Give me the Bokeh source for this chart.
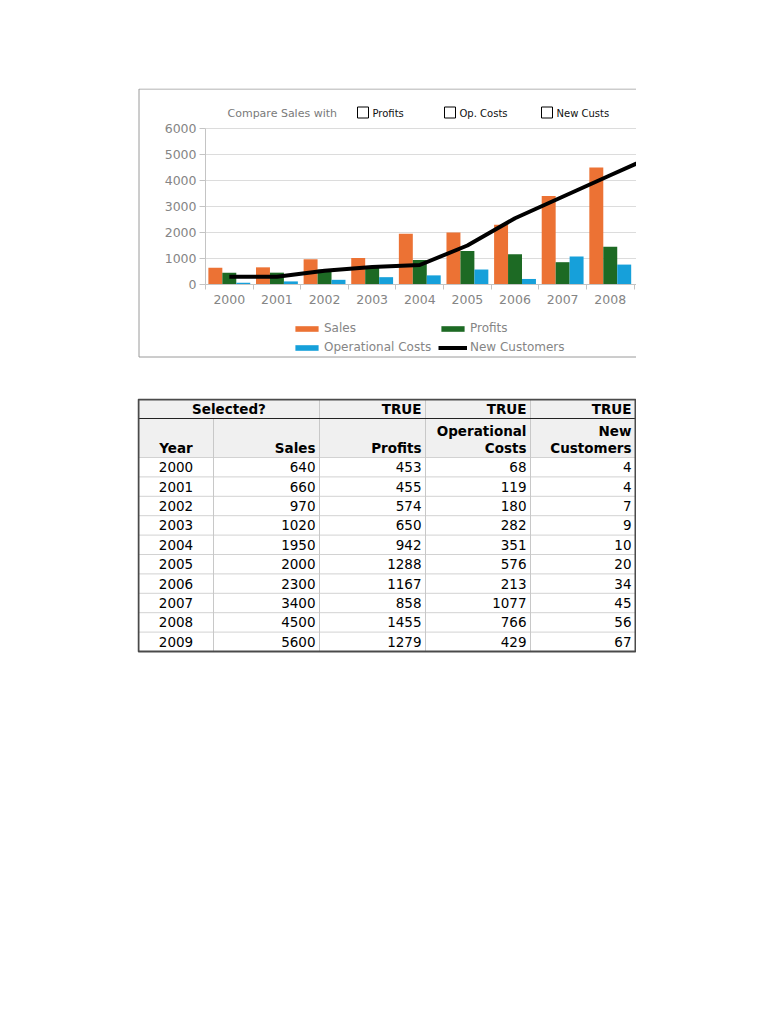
from bokeh.plotting import figure
from bokeh.models import (Range1d, FixedTicker, Legend, LegendItem, Label,
                          BoxAnnotation, ColumnDataSource)
from bokeh.transform import dodge
from bokeh.layouts import column
from bokeh.embed import file_html
from bokeh.resources import INLINE
from bokeh.core.properties import value

# ---------------- data ----------------
years = [2000, 2001, 2002, 2003, 2004, 2005, 2006, 2007, 2008, 2009]
sales = [640, 660, 970, 1020, 1950, 2000, 2300, 3400, 4500, 5600]
profits = [453, 455, 574, 650, 942, 1288, 1167, 858, 1455, 1279]
op_costs = [68, 119, 180, 282, 351, 576, 213, 1077, 766, 429]
new_customers = [4, 4, 7, 9, 10, 20, 34, 45, 56, 67]
new_cust_scale = 75          # New Customers drawn on the sales scale
y_ticks = [0, 1000, 2000, 3000, 4000, 5000, 6000]
selected = ["TRUE", "TRUE", "TRUE"]
series_names = ["Sales", "Profits", "Operational Costs", "New Customers"]
checkbox_labels = ["Profits", "Op. Costs", "New Custs"]

FONT = "DejaVu Sans"
ORANGE = "#EC7234"
GREEN = "#1D6A24"
BLUE = "#16A0DA"
AXIS_GRAY = "#c4c4c4"
TEXT_GRAY = "#858585"

# ---------------- chart ----------------
# plot area (axes) position on the page and data extent there
X0, X1 = 1999.5, 2008.53
PA_L, PA_R, PA_T, PA_B = 205, 635, 128, 284
Y_TOP = 6000
# canvas (= frame) position on the page
CV_L, CV_R, CV_T, CV_B = 137, 636, 88, 358


def px_x(px):
    return X0 + (px - PA_L) * (X1 - X0) / (PA_R - PA_L)


def py_y(py):
    return (PA_B - py) * Y_TOP / (PA_B - PA_T)


p = figure(width=CV_R - CV_L, height=CV_B - CV_T,
           x_range=Range1d(px_x(CV_L), px_x(CV_R)),
           y_range=Range1d(py_y(CV_B), py_y(CV_T)),
           output_backend="svg", toolbar_location=None,
           min_border=0, min_border_left=0, min_border_right=0,
           min_border_top=0, min_border_bottom=0,
           margin=(CV_T, 0, 0, CV_L))
p.outline_line_color = None
p.background_fill_color = "white"
p.border_fill_color = "white"

src = ColumnDataSource(dict(year=years, sales=sales, profits=profits, op=op_costs,
                            nc=[v * new_cust_scale for v in new_customers]))
BW = 0.293
r_s = p.vbar(x=dodge("year", -BW), top="sales", width=BW, source=src,
             fill_color=ORANGE, line_color=None)
r_p = p.vbar(x="year", top="profits", width=BW, source=src,
             fill_color=GREEN, line_color=None)
r_o = p.vbar(x=dodge("year", BW), top="op", width=BW, source=src,
             fill_color=BLUE, line_color=None)
r_n = p.line(x="year", y="nc", source=src, line_color="black", line_width=4,
             line_join="round")

xt = FixedTicker(ticks=years, minor_ticks=[y - 0.5 for y in years] + [years[-1] + 0.5])
yt = FixedTicker(ticks=y_ticks)

p.xaxis.ticker = xt
p.xaxis.fixed_location = 0
p.xaxis.bounds = (X0, px_x(CV_R))
p.xaxis.major_tick_line_color = None
p.xaxis.major_tick_out = 0
p.xaxis.major_tick_in = 0
p.xaxis.minor_tick_out = 5
p.xaxis.minor_tick_in = 0
p.xaxis.minor_tick_line_color = AXIS_GRAY
p.xaxis.major_label_standoff = 5
p.xaxis.axis_line_color = AXIS_GRAY

p.yaxis.ticker = yt
p.yaxis.fixed_location = X0
p.yaxis.bounds = (0, Y_TOP)
p.yaxis.minor_tick_line_color = None
p.yaxis.major_tick_out = 6
p.yaxis.major_tick_in = 0
p.yaxis.major_tick_line_color = AXIS_GRAY
p.yaxis.axis_line_color = AXIS_GRAY
p.yaxis.major_label_standoff = 3

for ax in (p.xaxis, p.yaxis):
    ax.major_label_text_font = FONT
    ax.major_label_text_font_size = "12.5px"
    ax.major_label_text_color = TEXT_GRAY

p.xgrid.grid_line_color = None
yg = p.ygrid[0]
yg.ticker = yt
yg.grid_line_color = "#dcdcdc"
yg.bounds = (0, Y_TOP)
if hasattr(yg, "cross_bounds"):
    yg.cross_bounds = (X0, px_x(CV_R))
else:
    yg.grid_line_color = None
    gx0 = [X0] * len(y_ticks)
    gx1 = [px_x(CV_R)] * len(y_ticks)
    p.segment(x0=gx0, x1=gx1, y0=y_ticks, y1=y_ticks, line_color="#dcdcdc",
              level="underlay")

# outer box of the embedded chart (left, top, bottom edges; right edge is cut)
p.add_layout(BoxAnnotation(left=px_x(138.5), right=px_x(720), top=py_y(88.5),
                           bottom=py_y(356.5), fill_color=None, fill_alpha=0,
                           line_color="#9a9a9a", line_alpha=1, line_width=1,
                           level="underlay"))

# "Compare Sales with [ ] Profits [ ] Op. Costs [ ] New Custs"
p.add_layout(Label(x=px_x(227), y=py_y(112.5), text="Compare Sales with",
                   text_font=FONT, text_font_size="11px", text_color="#7a7a7a",
                   text_baseline="middle"))
box_px = [357, 444, 541]
for bx, lab in zip(box_px, checkbox_labels):
    p.add_layout(BoxAnnotation(left=px_x(bx), right=px_x(bx + 11),
                               top=py_y(106.5), bottom=py_y(117.5),
                               fill_color="white", fill_alpha=1,
                               line_color="black", line_alpha=1, line_width=1))
    p.add_layout(Label(x=px_x(bx + 15), y=py_y(112.5), text=lab,
                       text_font=FONT, text_font_size="10px", text_color="#111111",
                       text_baseline="middle"))

legend = Legend(items=[LegendItem(label=series_names[0], renderers=[r_s]),
                       LegendItem(label=series_names[1], renderers=[r_p]),
                       LegendItem(label=series_names[2], renderers=[r_o]),
                       LegendItem(label=series_names[3], renderers=[r_n])],
                orientation="horizontal", ncols=2,
                location=(292 - CV_L, CV_B - 356),
                padding=0, margin=0, spacing=1, label_standoff=3,
                glyph_width=29, glyph_height=7, label_height=18, label_width=113,
                border_line_color=None, background_fill_alpha=0,
                label_text_font=FONT, label_text_font_size="12px",
                label_text_color=TEXT_GRAY)
p.add_layout(legend, "center")

# ---------------- table ----------------
T_L, T_R, T_T = 138, 635, 399
col_edges = [138, 213, 319, 425, 530, 635]
H1_B, H2_B = 418, 457
ROW_H = 19.4
n_rows = len(years)
T_B = H2_B + ROW_H * n_rows
TC_L, TC_R, TC_T, TC_B = 137, 636, 398, 653

t = figure(width=TC_R - TC_L, height=TC_B - TC_T,
           x_range=Range1d(TC_L, TC_R), y_range=Range1d(TC_B, TC_T),
           output_backend="svg", toolbar_location=None,
           min_border=0, min_border_left=0, min_border_right=0,
           min_border_top=0, min_border_bottom=0,
           x_axis_location=None, y_axis_location=None,
           margin=(TC_T - CV_B, 0, 0, TC_L))
t.grid.visible = False
t.outline_line_color = None
t.background_fill_color = "white"
t.border_fill_color = "white"

# header background
t.quad(left=[T_L], right=[T_R], top=[T_T], bottom=[H2_B], fill_color="#f0f0f0",
       line_color=None)
# horizontal row lines
row_lines = [H2_B + ROW_H * k for k in range(0, n_rows)]
t.segment(x0=T_L, x1=T_R, y0=row_lines, y1=row_lines, line_color="#d2d2d2", line_width=1)
# vertical column lines
t.segment(x0=col_edges[1:-1], x1=col_edges[1:-1],
          y0=[H1_B] + [T_T] * 3, y1=[T_B] * 4, line_color="#c8c8c8", line_width=1)
# line under "Selected?" row
t.segment(x0=[T_L], x1=[T_R], y0=[H1_B], y1=[H1_B], line_color="#222222", line_width=1)
# outer border
t.quad(left=[T_L], right=[T_R], top=[T_T], bottom=[T_B], fill_color=None,
       line_color="#4a4a4a", line_width=2)

PAD = 4
row_cy = [H2_B + ROW_H * (i + 0.5) for i in range(n_rows)]
tf = value(FONT)
FS = "13.5px"

# header row 1
t.text(x=[(col_edges[0] + col_edges[2]) / 2], y=[(T_T + H1_B) / 2], text=["Selected?"],
       text_align="center", text_baseline="middle", text_font=tf,
       text_font_size=FS, text_font_style="bold", text_color="black")
t.text(x=[col_edges[3] - PAD, col_edges[4] - PAD, col_edges[5] - PAD],
       y=[(T_T + H1_B) / 2] * 3, text=selected,
       text_align="right", text_baseline="middle", text_font=tf,
       text_font_size=FS, text_font_style="bold", text_color="black")
# header row 2
t.text(x=[(col_edges[0] + col_edges[1]) / 2], y=[447], text=["Year"],
       text_align="center", text_baseline="middle", text_font=tf,
       text_font_size=FS, text_font_style="bold", text_color="black")
t.text(x=[col_edges[2] - PAD, col_edges[3] - PAD, col_edges[4] - PAD, col_edges[5] - PAD],
       y=[447] * 4, text=["Sales", "Profits", "Costs", "Customers"],
       text_align="right", text_baseline="middle", text_font=tf,
       text_font_size=FS, text_font_style="bold", text_color="black")
t.text(x=[col_edges[4] - PAD, col_edges[5] - PAD], y=[430, 430],
       text=["Operational", "New"],
       text_align="right", text_baseline="middle", text_font=tf,
       text_font_size=FS, text_font_style="bold", text_color="black")

# body
t.text(x=[(col_edges[0] + col_edges[1]) / 2] * n_rows, y=row_cy,
       text=[str(v) for v in years], text_align="center", text_baseline="middle",
       text_font=tf, text_font_size=FS, text_color="black")
for ci, series in enumerate([sales, profits, op_costs, new_customers]):
    t.text(x=[col_edges[ci + 2] - PAD] * n_rows, y=row_cy,
           text=[str(v) for v in series], text_align="right", text_baseline="middle",
           text_font=tf, text_font_size=FS, text_color="black")

layout = column(p, t, spacing=0)
open("out.html", "w").write(file_html(layout, INLINE))
